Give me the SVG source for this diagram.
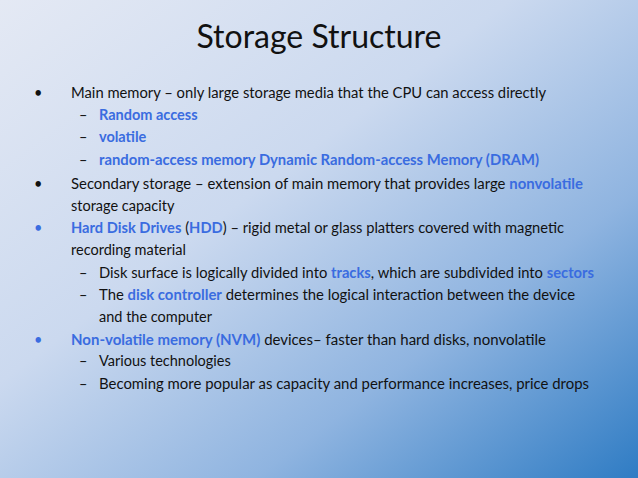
<svg xmlns="http://www.w3.org/2000/svg" width="638" height="478" viewBox="0 0 638 478">
<defs>
<linearGradient id="bg" x1="0" y1="0" x2="1" y2="1">
<stop offset="0" stop-color="#e4e9f4"/>
<stop offset="0.4" stop-color="#cbd9ef"/>
<stop offset="0.7" stop-color="#8fb4e0"/>
<stop offset="1" stop-color="#2f7cc4"/>
</linearGradient>
</defs>
<style>
text{font-family:Lato,"Open Sans","Liberation Sans",sans-serif;fill:#111;font-size:14.5px}
.b{fill:#3a6ce0;font-weight:bold}
.h{fill:#3a6ce0}
.t{font-size:32px;fill:#111}
</style>
<rect width="638" height="478" fill="url(#bg)"/>
<g id="title"><text class="t" x="319" y="48" text-anchor="middle">Storage Structure</text></g>
<g id="body">
<text x="34" y="98">•</text>
<text x="71" y="98" textLength="475" lengthAdjust="spacingAndGlyphs">Main memory – only large storage media that the CPU can access directly</text>
<text x="79" y="120">–</text>
<text class="b" x="99" y="120">Random access</text>
<text x="79" y="142">–</text>
<text class="b" x="99" y="142">volatile</text>
<text x="79" y="165">–</text>
<text class="b" x="99" y="165" textLength="440" lengthAdjust="spacingAndGlyphs">random-access memory Dynamic Random-access Memory (DRAM)</text>
<text x="34" y="189">•</text>
<text x="71" y="189" textLength="512" lengthAdjust="spacingAndGlyphs">Secondary storage – extension of main memory that provides large <tspan class="b">nonvolatile</tspan></text>
<text x="71" y="211">storage capacity</text>
<text x="34" y="233" class="h">•</text>
<text x="71" y="233" textLength="493" lengthAdjust="spacingAndGlyphs"><tspan class="b">Hard Disk Drives</tspan> (<tspan class="b">HDD</tspan>) – rigid metal or glass platters covered with magnetic</text>
<text x="71" y="255">recording material</text>
<text x="79" y="278">–</text>
<text x="99" y="278" textLength="495" lengthAdjust="spacingAndGlyphs">Disk surface is logically divided into <tspan class="b">tracks</tspan>, which are subdivided into <tspan class="b">sectors</tspan></text>
<text x="79" y="300">–</text>
<text x="99" y="300" textLength="476" lengthAdjust="spacingAndGlyphs">The <tspan class="b">disk controller</tspan> determines the logical interaction between the device</text>
<text x="99" y="322">and the computer</text>
<text x="34" y="345" class="h">•</text>
<text x="71" y="345" textLength="475" lengthAdjust="spacingAndGlyphs"><tspan class="b">Non-volatile memory (NVM)</tspan> devices– faster than hard disks, nonvolatile</text>
<text x="79" y="366">–</text>
<text x="99" y="366">Various technologies</text>
<text x="79" y="389">–</text>
<text x="99" y="389" textLength="490" lengthAdjust="spacingAndGlyphs">Becoming more popular as capacity and performance increases, price drops</text>
</g>
</svg>
